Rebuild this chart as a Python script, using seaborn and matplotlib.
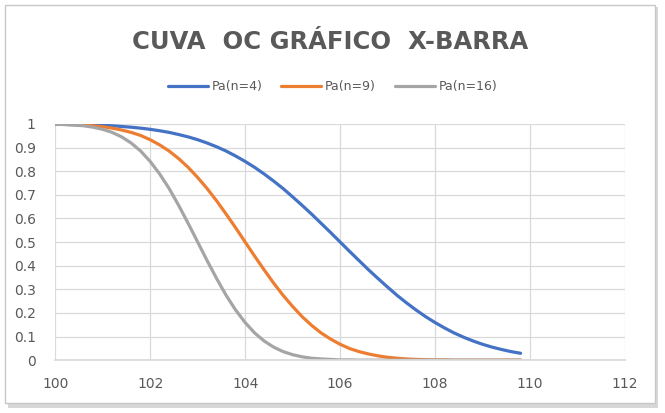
import numpy as np
import pandas as pd
import matplotlib
matplotlib.use("Agg")
import matplotlib.pyplot as plt
import seaborn as sns
from matplotlib.patches import Rectangle

# ---- data ----
x_vals = [round(100 + 0.2 * i, 1) for i in range(50)]
pa_n4 = [0.999, 0.998, 0.997, 0.997, 0.995, 0.994, 0.992, 0.989, 0.986, 0.982,
         0.977, 0.971, 0.964, 0.955, 0.945, 0.933, 0.919, 0.903, 0.885, 0.864,
         0.841, 0.816, 0.788, 0.758, 0.726, 0.691, 0.655, 0.618, 0.579, 0.540,
         0.500, 0.460, 0.421, 0.382, 0.345, 0.309, 0.274, 0.242, 0.212, 0.184,
         0.159, 0.136, 0.115, 0.097, 0.081, 0.067, 0.055, 0.045, 0.036, 0.029]
pa_n9 = [0.999, 0.998, 0.997, 0.995, 0.992, 0.988, 0.982, 0.974, 0.964, 0.951,
         0.933, 0.911, 0.885, 0.853, 0.816, 0.773, 0.726, 0.674, 0.618, 0.560,
         0.500, 0.440, 0.382, 0.326, 0.274, 0.227, 0.184, 0.147, 0.115, 0.089,
         0.067, 0.049, 0.036, 0.026, 0.018, 0.012, 0.008, 0.005, 0.003, 0.002,
         0.001, 0.001, 0.000, 0.000, 0.000, 0.000, 0.000, 0.000, 0.000, 0.000]
pa_n16 = [0.999, 0.997, 0.995, 0.992, 0.986, 0.977, 0.964, 0.945, 0.919, 0.885,
          0.841, 0.788, 0.726, 0.655, 0.579, 0.500, 0.421, 0.345, 0.274, 0.212,
          0.159, 0.115, 0.081, 0.055, 0.036, 0.023, 0.014, 0.008, 0.005, 0.003,
          0.001, 0.001, 0.000, 0.000, 0.000, 0.000, 0.000, 0.000, 0.000, 0.000,
          0.000, 0.000, 0.000, 0.000, 0.000, 0.000, 0.000, 0.000, 0.000, 0.000]
series_names = ["Pa(n=4)", "Pa(n=9)", "Pa(n=16)"]
x_ticks = [100, 102, 104, 106, 108, 110, 112]
y_ticks = [0, 0.1, 0.2, 0.3, 0.4, 0.5, 0.6, 0.7, 0.8, 0.9, 1]
y_tick_labels = ["0", "0.1", "0.2", "0.3", "0.4", "0.5", "0.6", "0.7", "0.8", "0.9", "1"]
title = "CUVA  OC GRÁFICO  X-BARRA"

df = pd.concat([
    pd.DataFrame({"x": x_vals, "Pa": vals, "serie": name})
    for name, vals in zip(series_names, [pa_n4, pa_n9, pa_n16])
])

sns.set_theme(style="white")
plt.rcParams["font.family"] = ["DejaVu Sans"]

fig = plt.figure(figsize=(6.65, 4.13), dpi=100)
fig.patch.set_facecolor("white")

# frame with shadow
fig.patches.append(Rectangle((0.012, 0.012), 0.978, 0.972, transform=fig.transFigure,
                             facecolor="#bdbdbd", edgecolor="none", zorder=-3, alpha=0.6))
fig.patches.append(Rectangle((0.007, 0.025), 0.978, 0.962, transform=fig.transFigure,
                             facecolor="white", edgecolor="#c8c8c8", linewidth=1.0, zorder=-2))

ax = fig.add_axes([0.083, 0.128, 0.857, 0.572])
palette = {"Pa(n=4)": "#4472C4", "Pa(n=9)": "#ED7D31", "Pa(n=16)": "#A5A5A5"}
sns.lineplot(data=df, x="x", y="Pa", hue="serie", palette=palette, hue_order=series_names,
             linewidth=2.3, ax=ax, legend=True)

ax.set_xlim(100, 112)
ax.set_ylim(0, 1)
ax.set_xticks(x_ticks)
ax.set_xticklabels([str(t) for t in x_ticks])
ax.set_yticks(y_ticks)
ax.set_yticklabels(y_tick_labels)
ax.set_xlabel("")
ax.set_ylabel("")
ax.grid(True, color="#d9d9d9", linewidth=0.9)
ax.set_axisbelow(True)
for s in ["top", "right", "left"]:
    ax.spines[s].set_visible(False)
ax.spines["bottom"].set_color("#d9d9d9")
ax.tick_params(axis="both", length=0, labelsize=10, colors="#595959")
ax.tick_params(axis="y", pad=14)
ax.tick_params(axis="x", pad=12)
ax.set_facecolor("none")

handles, labels = ax.get_legend_handles_labels()
ax.legend_.remove()
fig.legend(handles, labels, loc="center", bbox_to_anchor=(0.5, 0.79), ncol=3, frameon=False,
           fontsize=9, labelcolor="#595959", handlelength=3.2, columnspacing=1.5,
           handletextpad=0.3)

fig.text(0.497, 0.898, title, ha="center", va="center", fontsize=17.5, fontweight="bold",
         color="#595959")

fig.savefig("out.png", dpi=100)
